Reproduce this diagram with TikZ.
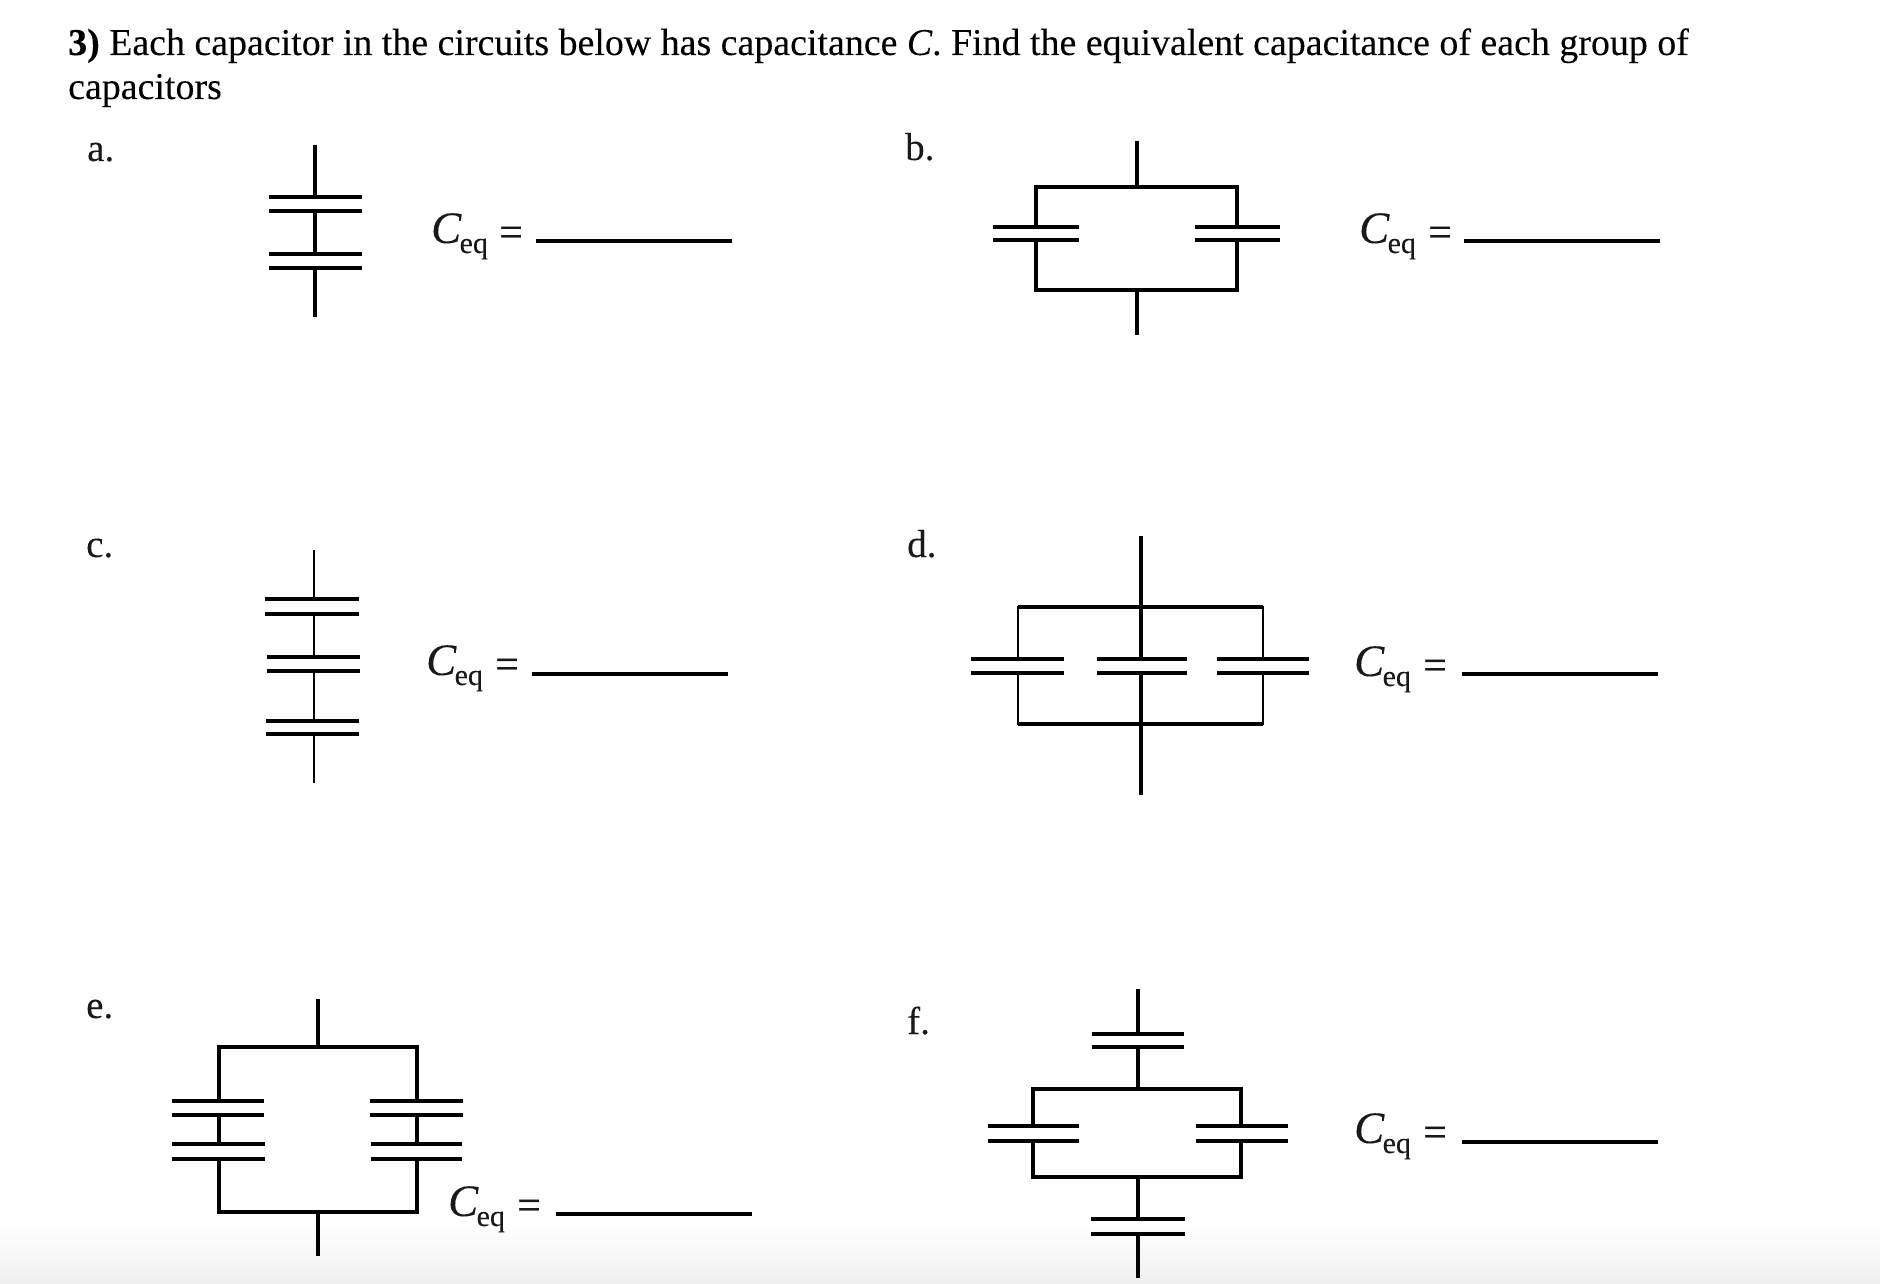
\documentclass[tikz,border=0pt]{standalone}
\usepackage{fontspec}
\setmainfont[FakeBold=0.12]{Liberation Serif}
\newfontfamily\eqfont[FakeBold=0.5]{Liberation Serif}
\usetikzlibrary{calc}
\newcommand\capacitor[6]{%
  \coordinate (#1t) at (#2,#5);
  \coordinate (#1b) at (#2,#6);
  \draw[plate] (#3,#5) -- (#4,#5);
  \draw[plate] (#3,#6) -- (#4,#6);
}
\newcommand\ceqgroup[6]{%
  \node[ceqtext] (#1c) at (#2,#3) {\fontsize{45}{45}\selectfont\textit{C}\kern-2pt\raisebox{-10pt}{\fontsize{30}{30}\selectfont eq}};
  \node[ceqtext] (#1e) at (#4,#3) {\raisebox{-3pt}{\eqfont\fontsize{42}{42}\selectfont =}};
  \coordinate (#1l) at (#5,#6);
  \coordinate (#1r) at ($(#1l)+(196,0)$);
  \draw[answer] (#1l) -- (#1r);
}
\tikzset{
  plate/.style={line width=4.4pt},
  wire/.style={line width=3.3pt,line join=miter},
  thinwire/.style={line width=2.4pt},
  answer/.style={line width=3.4pt},
  heading/.style={anchor=base west,inner sep=0pt,font=\fontsize{37.9}{37.9}\selectfont,text=black},
  letter/.style={anchor=base west,inner sep=0pt,font=\fontsize{39}{39}\selectfont,text=black!90},
  ceqtext/.style={anchor=base west,inner sep=0pt,text=black!90},
}
\begin{document}
\begin{tikzpicture}[x=1pt,y=-1pt]
\useasboundingbox (0,0) rectangle (1880,1284);
\fill[white] (0,0) rectangle (1880,1284);
\shade[top color=white,bottom color=black!6,draw=none] (0,1225) rectangle (1880,1284);
% heading
\node[heading] (h1) at (68,55) {\textbf{3)} Each capacitor in the circuits below has capacitance \textit{C}. Find the equivalent capacitance of each group of};
\node[heading] (h2) at (68,99) {capacitors};
% letters
\node[letter] (la) at (87,161) {a.};
\node[letter] (lb) at (905,160) {b.};
\node[letter] (lc) at (86,557) {c.};
\node[letter] (ld) at (907,557) {d.};
\node[letter] (le) at (86,1018) {e.};
\node[letter] (lf) at (907,1034) {f.};
% a
\coordinate (a0) at (315,145);
\coordinate (a9) at (315,317);
\capacitor{a1}{315}{269}{362}{197}{211}
\capacitor{a2}{315}{269}{362}{254}{268}
\draw[wire] (a0) -- (a1t);
\draw[wire] (a1b) -- (a2t);
\draw[wire] (a2b) -- (a9);
\ceqgroup{a}{431}{243}{499}{536}{241}
% b
\coordinate (b0) at (1137,141);
\coordinate (bT) at (1137,187);
\coordinate (bB) at (1137,290);
\coordinate (b9) at (1137,335);
\capacitor{b1}{1036}{993}{1079}{227}{240}
\capacitor{b2}{1237}{1195}{1280}{227}{240}
\draw[wire] (b0) -- (bT);
\draw[wire] (b1t) |- (bT) -| (b2t);
\draw[wire] (b1b) |- (bB) -| (b2b);
\draw[wire] (bB) -- (b9);
\ceqgroup{b}{1359}{243}{1428}{1464}{241}
% c
\coordinate (c0) at (314,550);
\coordinate (c9) at (314,783);
\capacitor{c1}{314}{265}{359}{599}{614}
\capacitor{c2}{314}{267}{360}{657}{671}
\capacitor{c3}{314}{266}{359}{721}{734}
\draw[thinwire] (c0) -- (c1t);
\draw[thinwire] (c1b) -- (c2t);
\draw[thinwire] (c2b) -- (c3t);
\draw[thinwire] (c3b) -- (c9);
\ceqgroup{c}{426}{675}{495}{532}{674}
% d
\coordinate (d0) at (1141,536);
\coordinate (dT) at (1141,607);
\coordinate (dB) at (1141,724);
\coordinate (d9) at (1141,795);
\capacitor{d1}{1018}{971}{1064}{659}{673}
\capacitor{d2}{1141}{1097}{1187}{659}{673}
\capacitor{d3}{1263}{1217}{1309}{659}{673}
\draw[wire] (d0) -- (d2t);
\draw[wire] (d2b) -- (d9);
\draw[thinwire] (d1t) |- (dT) -| (d3t);
\draw[thinwire] (d1b) |- (dB) -| (d3b);
\draw[plate] (dT -| d1t) -- (dT -| d3t);
\draw[plate] (dB -| d1t) -- (dB -| d3t);
\ceqgroup{d}{1354}{676}{1423}{1462}{674}
% e
\coordinate (e0) at (318,999);
\coordinate (eT) at (318,1047);
\coordinate (eB) at (318,1212);
\coordinate (e9) at (318,1256);
\capacitor{e1}{219}{172}{264}{1101}{1115}
\capacitor{e2}{219}{172}{265}{1144}{1159}
\capacitor{e3}{417}{370}{463}{1101}{1115}
\capacitor{e4}{417}{371}{462}{1144}{1159}
\draw[wire] (e0) -- (eT);
\draw[wire] (e1t) |- (eT) -| (e3t);
\draw[wire] (e1b) -- (e2t);
\draw[wire] (e3b) -- (e4t);
\draw[wire] (e2b) |- (eB) -| (e4b);
\draw[wire] (eB) -- (e9);
\ceqgroup{e}{448}{1216}{517}{556}{1214}
% f
\coordinate (f0) at (1138,989);
\coordinate (fT) at (1138,1089);
\coordinate (fB) at (1138,1177);
\coordinate (f9) at (1138,1278);
\capacitor{f1}{1138}{1092}{1184}{1034}{1047}
\capacitor{f2}{1033}{988}{1079}{1126}{1141}
\capacitor{f3}{1241}{1196}{1288}{1126}{1141}
\capacitor{f4}{1138}{1091}{1185}{1219}{1234}
\draw[wire] (f0) -- (f1t);
\draw[wire] (f1b) -- (fT);
\draw[wire] (f2t) |- (fT) -| (f3t);
\draw[wire] (f2b) |- (fB) -| (f3b);
\draw[wire] (fB) -- (f4t);
\draw[wire] (f4b) -- (f9);
\ceqgroup{f}{1354}{1143}{1423}{1462}{1142}
\end{tikzpicture}
\end{document}
